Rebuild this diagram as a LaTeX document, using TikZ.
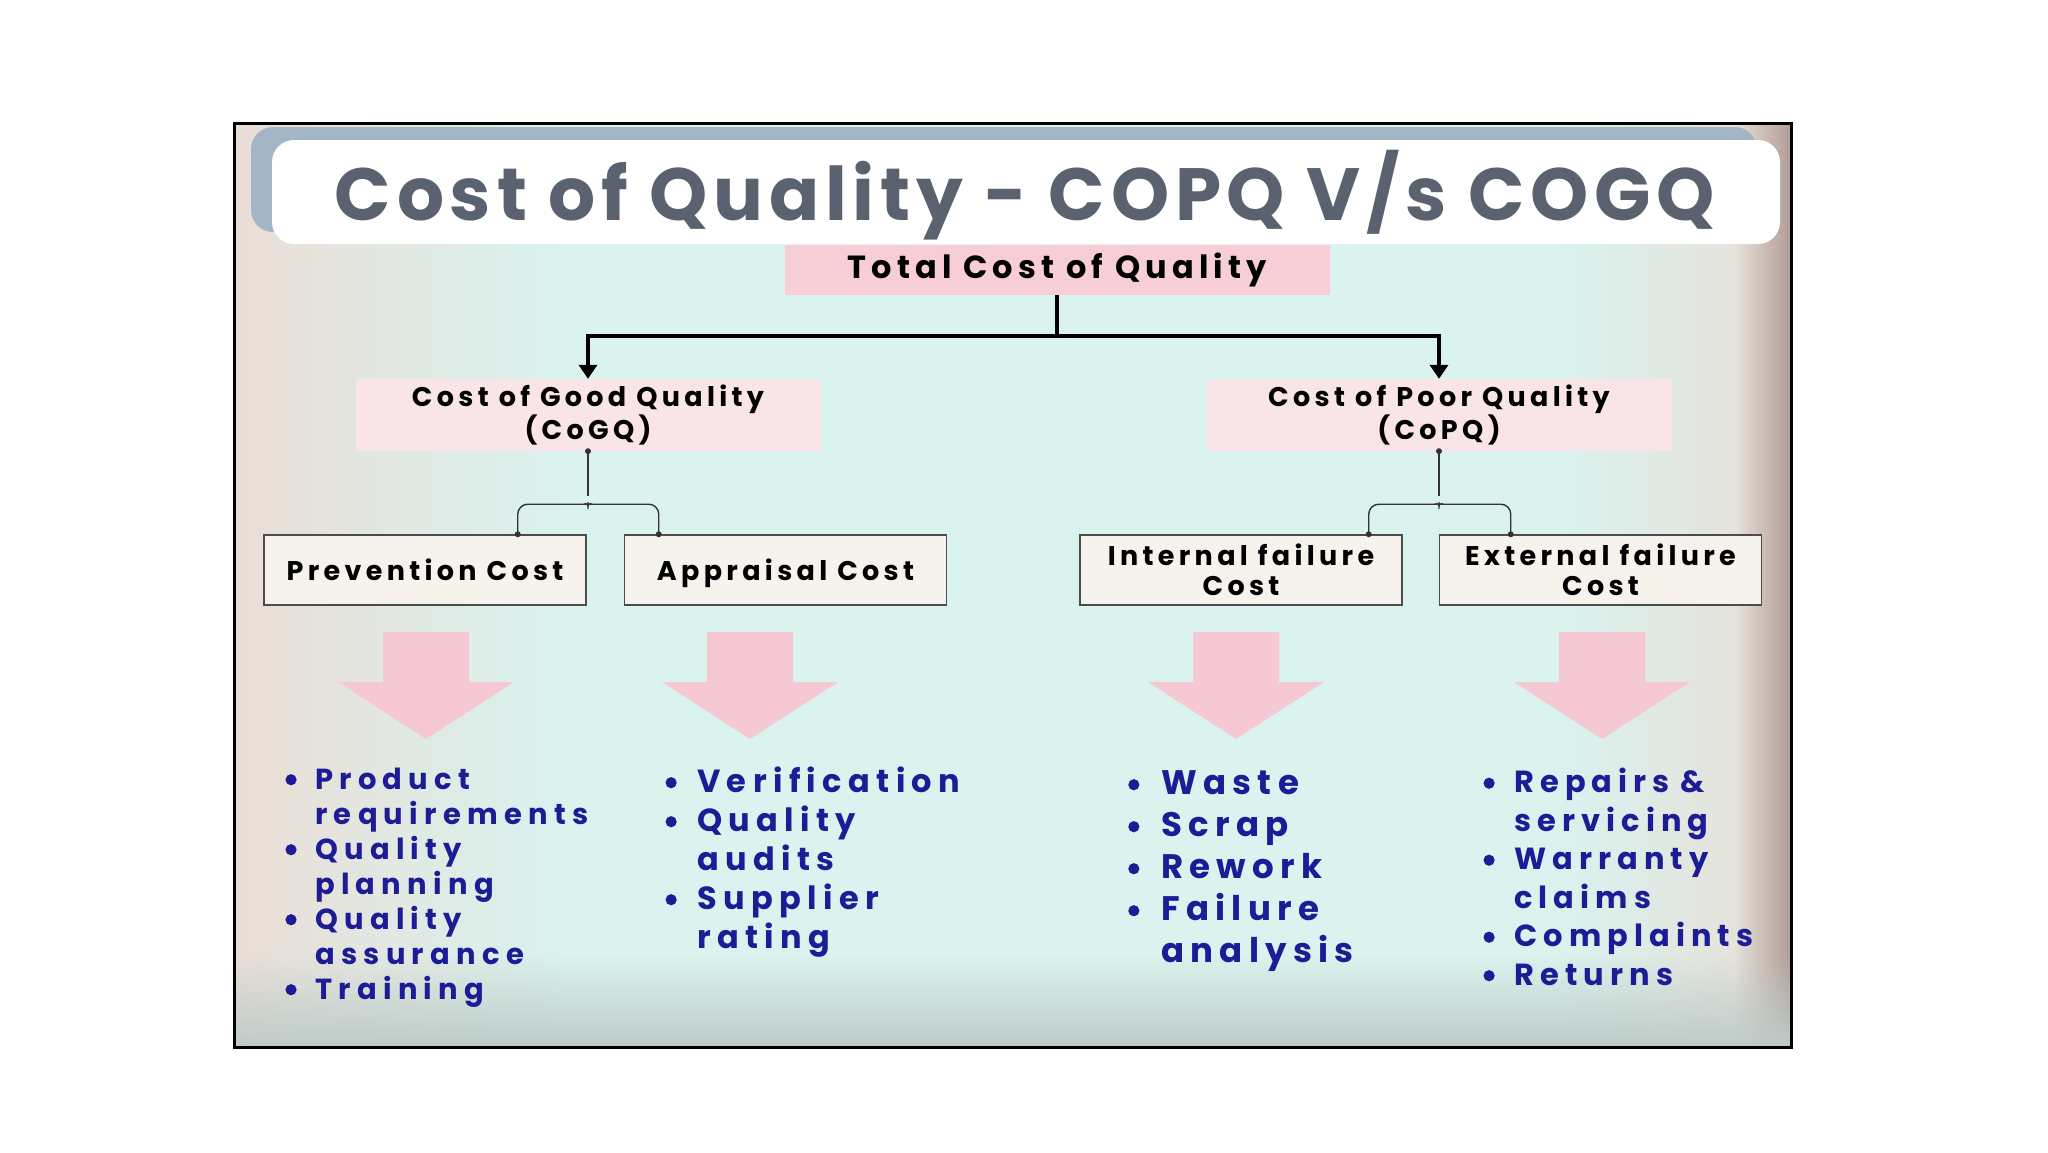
\documentclass[tikz,border=0pt]{standalone}
\usepackage{fontspec}
\setmainfont{Poppins}[LetterSpace=16]
\newfontfamily\titlefont{Poppins}[LetterSpace=7.8]
\usepackage{enumitem}
\usetikzlibrary{positioning,calc,arrows.meta,fadings}

\definecolor{titlegray}{RGB}{90,98,112}
\definecolor{shadeblue}{RGB}{164,181,198}
\definecolor{headpink}{RGB}{247,205,214}
\definecolor{palepink}{RGB}{249,228,231}
\definecolor{arrowpink}{RGB}{246,200,211}
\definecolor{listblue}{RGB}{28,28,150}
\definecolor{cream}{RGB}{246,243,237}
\definecolor{bgcyan}{RGB}{218,243,239}
\definecolor{bgbeige}{RGB}{234,222,214}
\definecolor{bgbrown}{RGB}{176,158,150}
\definecolor{bggray}{RGB}{190,204,201}

\setlist[itemize]{label={\tikz[baseline={(0pt,-9.5pt)}]\fill[listblue] (0pt,0pt) circle[radius=5.6pt];}, leftmargin=31pt, labelsep=0.64em, itemsep=0pt, topsep=0pt, parsep=0pt, partopsep=0pt}

\tikzset{
  headbox/.style={fill=headpink, minimum width=545pt, minimum height=50pt, font=\bfseries\fontsize{32}{34}\selectfont},
  groupbox/.style={fill=palepink, minimum width=465pt, minimum height=72pt, align=center, font=\bfseries\fontsize{27}{30}\selectfont},
  costbox/.style={draw=black!70, line width=1.5pt, fill=cream, minimum width=322pt, minimum height=70pt, align=center, font=\bfseries\fontsize{27}{30}\selectfont},
  branch/.style={line width=4pt, -{Triangle[length=14pt,width=18pt]}},
  brace/.style={line width=1.4pt, black!80},
  listnode/.style={anchor=north west, inner sep=0pt, text width=330pt, text=listblue},
}

\begin{document}
\begin{tikzpicture}[x=1pt,y=-1pt]
\useasboundingbox[fill=white] (0,0) rectangle (2048,1152);
% panel background
\fill[bgcyan] (234,123) rectangle (1791,1047);
\fill[bgbeige, path fading=east] (234,123) rectangle (560,1047);
\fill[bgbeige, path fading=west] (1560,123) rectangle (1791,1047);
\fill[bgbrown, path fading=west] (1735,123) rectangle (1791,1047);
\fill[bggray, path fading=north] (234,955) rectangle (1791,1047);
\draw[line width=3pt] (234,123) rectangle (1791,1047);

% title bar
\fill[shadeblue, rounded corners=22pt] (251,127) rectangle (1757,232);
\fill[white, rounded corners=22pt] (272,140) rectangle (1780,244);
\node[text=titlegray, font=\titlefont\bfseries\fontsize{74}{84}\selectfont] (title) at (1025,195) {Cost of Quality - COPQ V/s COGQ};

% tree
\node[headbox] (total) at (1057,270) {Total Cost of Quality};
\node[groupbox] (cogq) at (588,415) {Cost of Good Quality\\(CoGQ)};
\node[groupbox] (copq) at (1439,415) {Cost of Poor Quality\\(CoPQ)};
\node[costbox] (prev) at (425,570) {Prevention Cost};
\node[costbox, text depth=0pt, right=37pt of prev] (appr) {Appraisal Cost};
\node[costbox] (intf) at (1241,570) {Internal failure\\Cost};
\node[costbox, right=36pt of intf] (extf) {External failure\\Cost};

\draw[branch] (total.south) -- ++(0,41) -| (cogq.north);
\draw[branch] (total.south) -- ++(0,41) -| (copq.north);

% brackets
\coordinate (pl) at ($(prev.north east)+(-69,0)$);
\coordinate (pr) at ($(appr.north west)+(35,0)$);
\coordinate (ql) at ($(intf.north east)+(-34,0)$);
\coordinate (qr) at ($(extf.north west)+(72,0)$);
\draw[brace] (cogq.south) -- ++(0,45) coordinate (gm);
\draw[brace, rounded corners=10pt] (pl) |- ($(gm)+(-12,8)$) .. controls +(6,0) and +(0,6) .. (gm) .. controls +(0,6) and +(-6,0) .. ($(gm)+(12,8)$) -| (pr);
\draw[brace] (copq.south) -- ++(0,45) coordinate (pm);
\draw[brace, rounded corners=10pt] (ql) |- ($(pm)+(-12,8)$) .. controls +(6,0) and +(0,6) .. (pm) .. controls +(0,6) and +(-6,0) .. ($(pm)+(12,8)$) -| (qr);
\foreach \p in {pl,pr,ql,qr,cogq.south,copq.south}
  \fill[black!80] (\p) circle[radius=3pt];

% pink arrows
\foreach \cx in {426,750,1236,1602}
  \fill[arrowpink] (\cx-43,632) -- (\cx+43,632) -- (\cx+43,682) -- (\cx+88,682)
    -- (\cx,739) -- (\cx-88,682) -- (\cx-43,682) -- cycle;

% lists
\node[listnode, font=\bfseries\fontsize{29}{35}\selectfont\addfontfeature{LetterSpace=21.6}] (prevlist) at (284,754) {
\begin{itemize}
\item Product\\requirements
\item Quality\\planning
\item Quality\\assurance
\item Training
\end{itemize}};
\node[listnode, font=\bfseries\fontsize{32}{39}\selectfont\addfontfeature{LetterSpace=20}] (apprlist) at (666,753) {
\begin{itemize}
\item Verification
\item Quality\\audits
\item Supplier\\rating
\end{itemize}};
\node[listnode, font=\bfseries\fontsize{34}{42}\selectfont\addfontfeature{LetterSpace=18.5}] (intflist) at (1130,752) {
\begin{itemize}
\item Waste
\item Scrap
\item Rework
\item Failure\\analysis
\end{itemize}};
\node[listnode, font=\bfseries\fontsize{30.5}{38.5}\selectfont\addfontfeature{LetterSpace=20}] (extflist) at (1483,754) {
\begin{itemize}
\item Repairs \&\\servicing
\item Warranty\\claims
\item Complaints
\item Returns
\end{itemize}};
\end{tikzpicture}
\end{document}
